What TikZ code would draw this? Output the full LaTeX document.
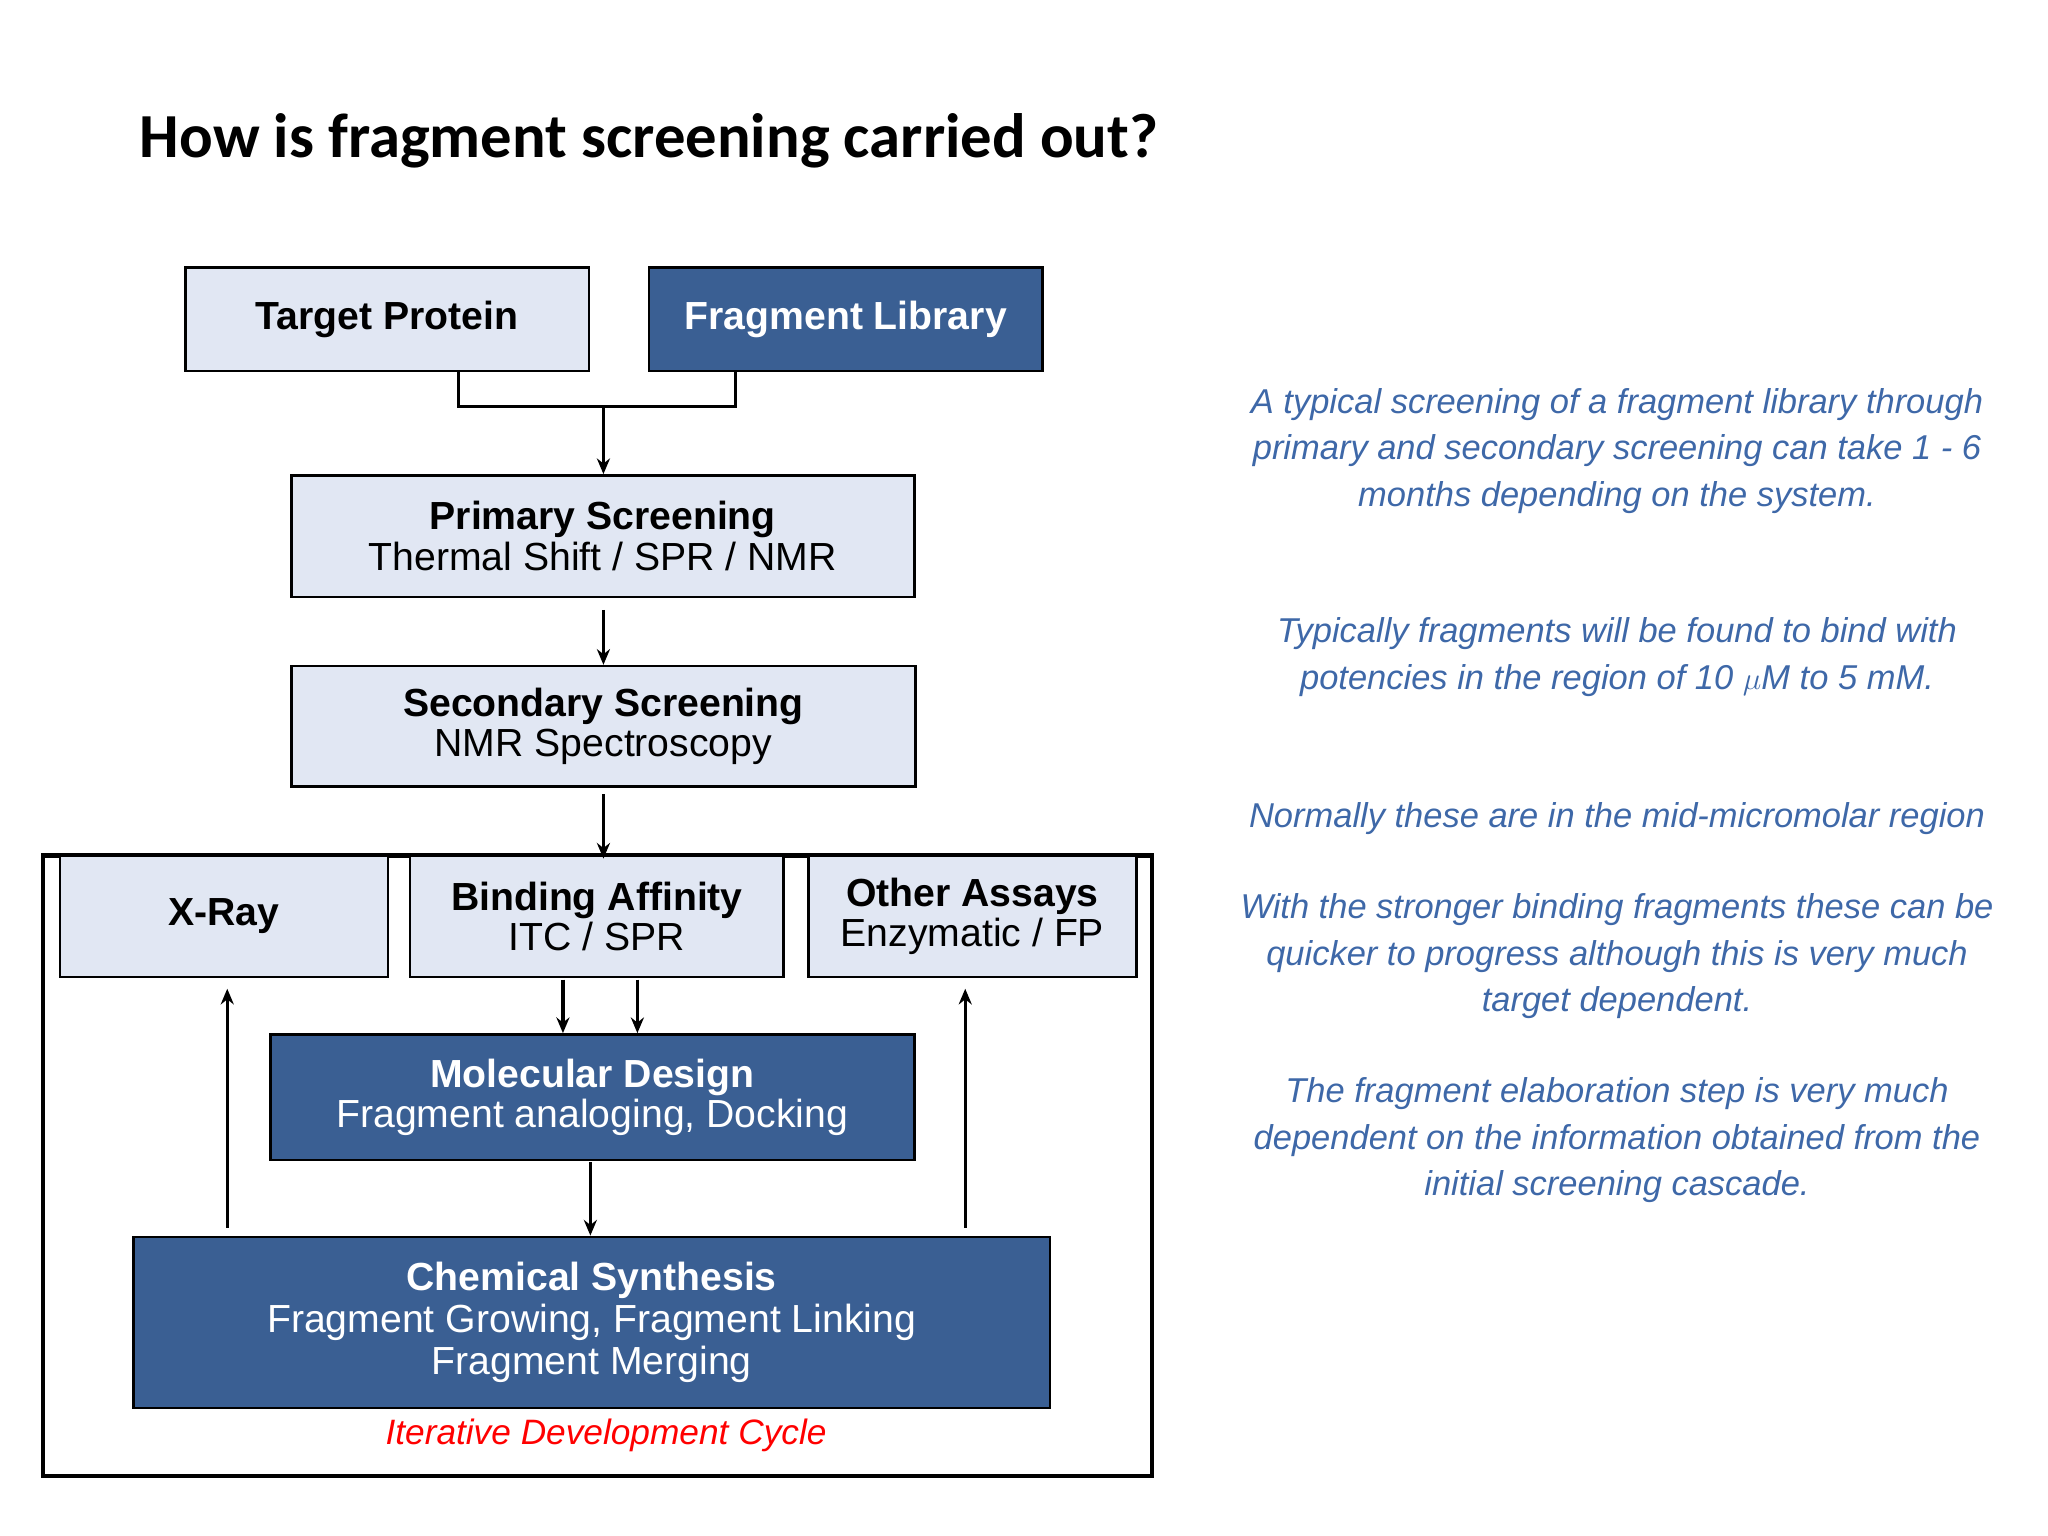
\documentclass[tikz,border=0pt]{standalone}
\usepackage{fontspec}
\setmainfont{Liberation Sans}
\newfontfamily\carlitofont{Carlito}
\usetikzlibrary{arrows.meta}
\definecolor{lfill}{HTML}{E1E7F3}
\definecolor{dblue}{HTML}{3A5F93}
\definecolor{tblue}{HTML}{3E68A8}
\begin{document}
\begin{tikzpicture}[x=0.5pt,y=-0.5pt,
 box/.style={draw=black,line width=1pt,inner sep=0pt,align=center,font=\fontsize{15}{15.5}\selectfont},
 lb/.style={box,fill=lfill},
 db/.style={box,fill=dblue,text=white},
 arr/.style={line width=1.3pt,-{Stealth[length=6pt,width=5pt]}},
 note/.style={align=center,text=tblue,font=\itshape\fontsize{13.2}{17.8}\selectfont}]
\useasboundingbox (0,0) rectangle (1568,1176);
\node[anchor=west,font=\carlitofont\bfseries\fontsize{24}{24}\selectfont] (title) at (100,108) {How is fragment screening carried out?};
\node[lb,minimum width=154.5pt,minimum height=39.5pt] (tp) at (296.5,244.5) {\textbf{Target Protein}};
\node[db,minimum width=150.5pt,minimum height=39.5pt] (fl) at (647.5,244.5) {\textbf{Fragment Library}};
\node[lb,minimum width=238.5pt,minimum height=46.5pt] (ps) at (461.5,410.5) {\textbf{Primary Screening}\\Thermal Shift / SPR / NMR};
\node[lb,minimum width=239pt,minimum height=46pt] (ss) at (462,556) {\textbf{Secondary Screening}\\NMR Spectroscopy};
\node[draw=black,line width=1.6pt,minimum width=424.5pt,minimum height=237.5pt,inner sep=0pt] (cyc) at (457.5,892.5) {};
\node[lb,minimum width=125.5pt,minimum height=46.5pt] (xr) at (171.5,701.5) {\textbf{X-Ray}};
\node[lb,minimum width=143pt,minimum height=46.5pt] (ba) at (457,701.5) {\textbf{Binding Affinity}\\ITC / SPR};
\node[lb,minimum width=125.5pt,minimum height=46.5pt] (oa) at (744.5,701.5) {\textbf{Other Assays}\\Enzymatic / FP};
\node[db,minimum width=246.5pt,minimum height=48pt] (md) at (453.5,840) {\textbf{Molecular Design}\\Fragment analoging, Docking};
\node[db,minimum width=351pt,minimum height=65.5pt,font=\fontsize{15}{16}\selectfont] (cs) at (453,1012.5) {\textbf{Chemical Synthesis}\\Fragment Growing, Fragment Linking\\Fragment Merging};
\node[text=red,font=\itshape\fontsize{13.5}{14}\selectfont] (idc) at (464,1099) {Iterative Development Cycle};
% connectors
\coordinate (j1) at (351,311); \coordinate (j2) at (563,311); \coordinate (jm) at (462,311);
\draw[line width=1.3pt] (tp.south -| j1) -- (j1) -- (j2) -- (fl.south -| j2);
\draw[arr] (jm) -- (ps.north -| jm);
\coordinate (a1) at (462,467); \draw[arr] (a1) -- (ss.north -| a1);
\coordinate (a2) at (462,608); \draw[arr] (a2) -- ([yshift=-2pt]cyc.north -| a2);
\coordinate (b1) at (431,750); \coordinate (b2) at (488,750);
\draw[arr] (b1) -- (md.north -| b1);
\draw[arr] (b2) -- (md.north -| b2);
\coordinate (c1) at (452,890); \draw[arr] (c1) -- (cs.north -| c1);
\coordinate (u1) at (174,940); \draw[arr] (u1) -- ([yshift=-4pt]xr.south -| u1);
\coordinate (u2) at (739,940); \draw[arr] (u2) -- ([yshift=-4pt]oa.south -| u2);
% notes
\node[note] (n1) at (1238,345) {A typical screening of a fragment library through\\primary and secondary screening can take 1 - 6\\months depending on the system.};
\node[note] (n2) at (1238,503) {Typically fragments will be found to bind with\\potencies in the region of 10 $\mu$M to 5 mM.};
\node[note] (n3) at (1238,627) {Normally these are in the mid-micromolar region};
\node[note] (n4) at (1238,732) {With the stronger binding fragments these can be\\quicker to progress although this is very much\\target dependent.};
\node[note] (n5) at (1238,873) {The fragment elaboration step is very much\\dependent on the information obtained from the\\initial screening cascade.};
\end{tikzpicture}
\end{document}
